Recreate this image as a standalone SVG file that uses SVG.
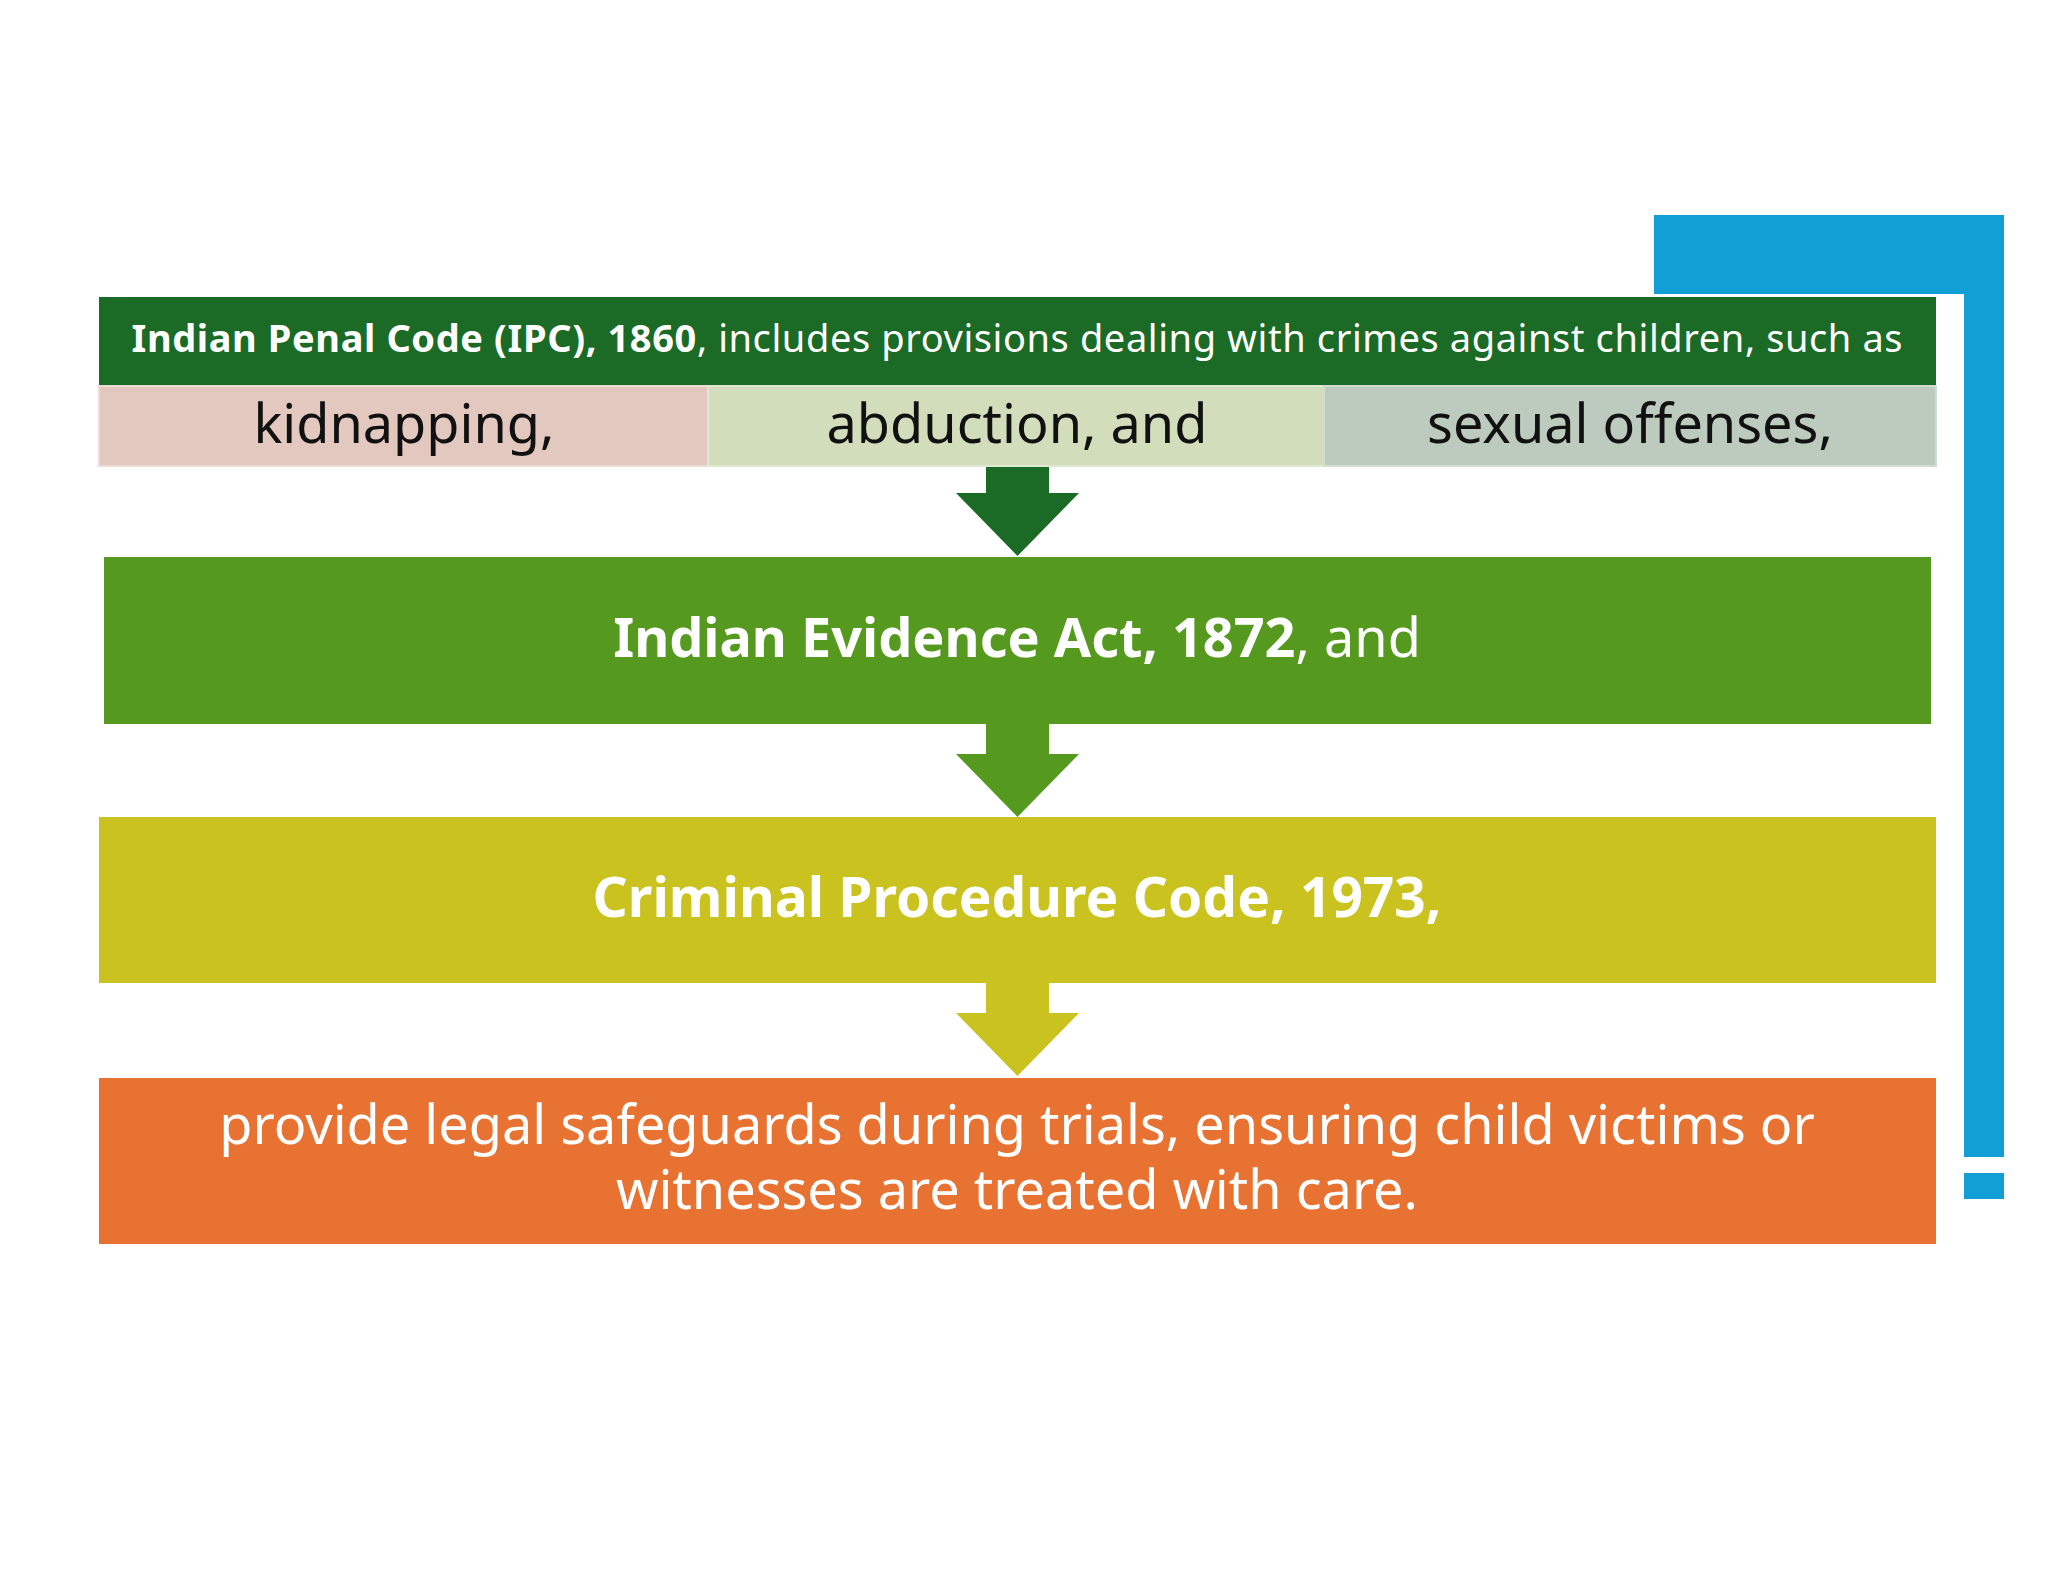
<svg xmlns="http://www.w3.org/2000/svg" width="2048" height="1582" viewBox="0 0 2048 1582">
<style>
text{font-family:"Noto Sans","Open Sans","Liberation Sans",sans-serif;}
.w{fill:#ffffff}
.k{fill:#111111}
.b{font-weight:bold}
</style>
<rect x="0" y="0" width="2048" height="1582" fill="#ffffff"/>
<g id="bracket">
<rect x="1654" y="215" width="350" height="79" fill="#119FD6"/>
<rect x="1964" y="215" width="40" height="942" fill="#119FD6"/>
<rect x="1964" y="1173" width="40" height="26" fill="#119FD6"/>
</g>
<g id="connectors">
<polygon points="986,467 1049,467 1049,493 1079,493 1017.5,556 956,493 986,493" fill="#1B6B26"/>
<polygon points="986,724 1049,724 1049,754 1079,754 1017.5,817 956,754 986,754" fill="#56991F"/>
<polygon points="986,983 1049,983 1049,1013 1079,1013 1017.5,1076 956,1013 986,1013" fill="#C9C21F"/>
</g>
<g id="ipc">
<rect x="99" y="297" width="1837" height="89" fill="#1B6B26"/>
<text x="1017" y="352" font-size="38" text-anchor="middle" class="w" textLength="1771" lengthAdjust="spacing"><tspan class="b">Indian Penal Code (IPC), 1860</tspan>, includes provisions dealing with crimes against children, such as</text>
</g>
<g id="kidnapping">
<rect x="99" y="386" width="609" height="80" fill="#E2C8BE" stroke="#EBDDD6" stroke-width="2"/>
<text x="404" y="443" font-size="54" text-anchor="middle" class="k">kidnapping,</text>
</g>
<g id="abduction">
<rect x="708" y="386" width="616" height="80" fill="#D2DDBC" stroke="#E0E8D2" stroke-width="2"/>
<text x="1017" y="443" font-size="54" text-anchor="middle" class="k">abduction, and</text>
</g>
<g id="sexual">
<rect x="1324" y="386" width="612" height="80" fill="#BDCABE" stroke="#D3DCD3" stroke-width="2"/>
<text x="1630" y="443" font-size="54" text-anchor="middle" class="k">sexual offenses,</text>
</g>
<g id="evidence">
<rect x="104" y="557" width="1827" height="167" fill="#56991F"/>
<text x="1017" y="657" font-size="54" text-anchor="middle" class="w"><tspan class="b">Indian Evidence Act, 1872</tspan>, and</text>
</g>
<g id="crpc">
<rect x="99" y="817" width="1837" height="166" fill="#C9C21F"/>
<text x="1017" y="917" font-size="55" text-anchor="middle" class="w b">Criminal Procedure Code, 1973,</text>
</g>
<g id="safeguards">
<rect x="99" y="1078" width="1837" height="166" fill="#E87232"/>
<text font-size="54" text-anchor="middle" class="w"><tspan x="1017" y="1144">provide legal safeguards during trials, ensuring child victims or</tspan><tspan x="1017" y="1209">witnesses are treated with care.</tspan></text>
</g>
</svg>
